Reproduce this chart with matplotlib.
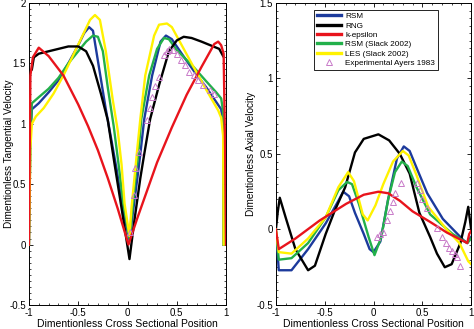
import numpy as np
import matplotlib
matplotlib.use("Agg")
import matplotlib.pyplot as plt
from matplotlib.ticker import MultipleLocator

plt.rcParams['font.family'] = ['Liberation Sans', 'DejaVu Sans']

# ---- tangential velocity profiles ----
tan_rsm_x = [-1.0, -0.985, -0.97, -0.9, -0.8, -0.7, -0.6, -0.5, -0.44, -0.39, -0.35, -0.29,
             -0.22, -0.16, -0.11, -0.05, 0.02, 0.06, 0.1, 0.13, 0.17, 0.25, 0.335, 0.39, 0.45,
             0.55, 0.67, 0.8, 0.9, 0.95, 0.97, 0.975]
tan_rsm_y = [0.0, 0.9, 1.12, 1.17, 1.26, 1.36, 1.5, 1.65, 1.75, 1.8, 1.77, 1.47,
             1.12, 0.85, 0.62, 0.3, 0.04, 0.3, 0.55, 0.75, 1.04, 1.4, 1.68, 1.73, 1.7,
             1.58, 1.44, 1.3, 1.18, 1.12, 1.0, 0.0]

tan_rng_x = [-0.97, -0.95, -0.9, -0.8, -0.7, -0.6, -0.5, -0.42, -0.35, -0.27, -0.2, -0.13,
             -0.06, 0.02, 0.07, 0.13, 0.17, 0.23, 0.32, 0.42, 0.5, 0.57, 0.65, 0.75, 0.87,
             0.93, 0.97]
tan_rng_y = [1.45, 1.55, 1.58, 1.6, 1.62, 1.64, 1.64, 1.6, 1.48, 1.25, 1.03, 0.66,
             0.3, -0.12, 0.2, 0.55, 0.75, 1.04, 1.32, 1.6, 1.69, 1.72, 1.71, 1.68, 1.64,
             1.62, 1.56]

tan_ke_x = [-1.0, -0.985, -0.96, -0.9, -0.8, -0.65, -0.5, -0.4, -0.3, -0.2, -0.1, 0.01,
            0.1, 0.2, 0.3, 0.45, 0.6, 0.75, 0.88, 0.92, 0.95, 0.975, 0.99, 1.0]
tan_ke_y = [0.0, 1.4, 1.55, 1.63, 1.56, 1.4, 1.16, 0.98, 0.78, 0.55, 0.3, 0.0,
            0.22, 0.45, 0.68, 0.97, 1.24, 1.47, 1.66, 1.68, 1.65, 1.58, 0.8, 0.0]

tan_rsm02_x = [-1.0, -0.985, -0.97, -0.9, -0.8, -0.7, -0.6, -0.5, -0.42, -0.35, -0.3, -0.25,
               -0.2, -0.14, -0.09, -0.04, 0.02, 0.05, 0.08, 0.11, 0.14, 0.22, 0.3, 0.37, 0.42,
               0.5, 0.67, 0.8, 0.9, 0.95, 0.97, 0.975]
tan_rsm02_y = [0.0, 0.9, 1.17, 1.22, 1.29, 1.38, 1.5, 1.6, 1.68, 1.73, 1.72, 1.6,
               1.3, 0.98, 0.66, 0.32, 0.05, 0.3, 0.55, 0.75, 1.04, 1.4, 1.62, 1.71, 1.7,
               1.61, 1.47, 1.35, 1.26, 1.21, 1.1, 0.0]

tan_les_x = [-1.0, -0.985, -0.97, -0.93, -0.85, -0.75, -0.65, -0.55, -0.45, -0.38, -0.33, -0.28,
             -0.22, -0.15, -0.1, -0.06, -0.03, 0.02, 0.04, 0.07, 0.1, 0.13, 0.18, 0.27, 0.32,
             0.4, 0.45, 0.55, 0.67, 0.8, 0.92, 0.95, 0.97, 0.975]
tan_les_y = [0.0, 0.8, 1.0, 1.06, 1.13, 1.25, 1.4, 1.57, 1.74, 1.86, 1.9, 1.86,
             1.6, 1.2, 0.95, 0.66, 0.34, 0.07, 0.3, 0.55, 0.8, 1.04, 1.4, 1.73, 1.82,
             1.83, 1.8, 1.65, 1.47, 1.28, 1.11, 1.05, 0.9, 0.0]

tan_exp_x = [0.03, 0.065, 0.08, 0.115, 0.2, 0.23, 0.25, 0.28, 0.32, 0.37, 0.40, 0.42,
             0.46, 0.5, 0.54, 0.58, 0.62, 0.67, 0.71, 0.77, 0.84, 0.88]
tan_exp_y = [0.1, 0.41, 0.63, 0.77, 1.03, 1.13, 1.22, 1.31, 1.39, 1.57, 1.6, 1.62,
             1.61, 1.58, 1.53, 1.49, 1.43, 1.4, 1.36, 1.32, 1.28, 1.25]

# ---- axial velocity profiles ----
ax_rsm_x = [-1.0, -0.97, -0.84, -0.67, -0.49, -0.36, -0.31, -0.25, -0.19, -0.1, -0.04, 0.0,
            0.07, 0.15, 0.24, 0.31, 0.37, 0.44, 0.55, 0.71, 0.92, 0.96, 1.0]
ax_rsm_y = [0.0, -0.27, -0.27, -0.13, 0.04, 0.19, 0.25, 0.22, 0.11, -0.03, -0.13, -0.15,
            -0.08, 0.2, 0.47, 0.55, 0.52, 0.41, 0.24, 0.07, -0.07, -0.09, -0.05]

ax_rng_x = [-1.0, -0.98, -0.96, -0.9, -0.8, -0.67, -0.6, -0.49, -0.4, -0.29, -0.19, -0.1,
            0.05, 0.16, 0.27, 0.37, 0.47, 0.58, 0.65, 0.73, 0.8, 0.89, 0.94, 0.97, 1.0]
ax_rng_y = [0.0, 0.12, 0.21, 0.08, -0.13, -0.27, -0.24, -0.03, 0.12, 0.28, 0.51, 0.6,
            0.63, 0.59, 0.5, 0.37, 0.11, -0.05, -0.16, -0.25, -0.23, -0.09, 0.05, 0.15, 0.0]

ax_ke_x = [-1.0, -0.97, -0.8, -0.55, -0.28, -0.1, 0.05, 0.15, 0.27, 0.4, 0.58, 0.75,
           0.96, 0.98, 1.0]
ax_ke_y = [0.0, -0.13, -0.06, 0.06, 0.17, 0.23, 0.25, 0.24, 0.19, 0.12, 0.05, -0.02,
           -0.09, -0.03, -0.01]

ax_rsm02_x = [-1.0, -0.97, -0.84, -0.67, -0.49, -0.36, -0.27, -0.22, -0.15, -0.05, 0.01, 0.08,
              0.15, 0.22, 0.29, 0.35, 0.44, 0.58, 0.81, 0.96, 1.0]
ax_rsm02_y = [0.0, -0.2, -0.19, -0.09, 0.08, 0.26, 0.315, 0.3, 0.17, -0.05, -0.17, -0.05,
              0.2, 0.38, 0.45, 0.42, 0.28, 0.1, -0.03, -0.09, -0.06]

ax_les_x = [-1.0, -0.97, -0.84, -0.67, -0.49, -0.36, -0.26, -0.2, -0.11, -0.06, 0.02, 0.1,
            0.2, 0.3, 0.36, 0.44, 0.56, 0.75, 0.88, 0.97, 1.0]
ax_les_y = [0.0, -0.15, -0.16, -0.06, 0.08, 0.28, 0.38, 0.32, 0.1, 0.06, 0.16, 0.3,
            0.45, 0.52, 0.49, 0.36, 0.15, 0.0, -0.09, -0.21, -0.23]

ax_exp_x = [0.04, 0.07, 0.10, 0.14, 0.17, 0.20, 0.22, 0.285, 0.45, 0.48, 0.5, 0.55,
            0.65, 0.70, 0.74, 0.77, 0.80, 0.83, 0.86, 0.89]
ax_exp_y = [-0.05, -0.03, -0.02, 0.06, 0.12, 0.18, 0.24, 0.31, 0.31, 0.26, 0.2, 0.14,
            0.01, -0.05, -0.09, -0.12, -0.14, -0.16, -0.18, -0.24]

c_rsm = '#1c3a9c'
c_rng = '#000000'
c_ke = '#e8141c'
c_rsm02 = '#22b04a'
c_les = '#fff200'
c_exp = '#c87ac8'
lw = 1.7

fig = plt.figure(figsize=(4.74, 3.29), dpi=100)
ax1 = fig.add_axes([0.061, 0.073, 0.416, 0.918])
ax2 = fig.add_axes([0.582, 0.073, 0.412, 0.918])


def style_axes(ax, ylo, yhi, ylab):
    ax.set_xlim(-1, 1)
    ax.set_ylim(ylo, yhi)
    ax.xaxis.set_major_locator(MultipleLocator(0.5))
    ax.xaxis.set_minor_locator(MultipleLocator(0.1))
    ax.yaxis.set_major_locator(MultipleLocator(0.5))
    ax.yaxis.set_minor_locator(MultipleLocator(0.05))
    ax.tick_params(which='both', direction='in', top=True, right=True, labelsize=7, pad=2)
    ax.tick_params(which='major', length=3, width=0.6)
    ax.tick_params(which='minor', length=1.6, width=0.5)
    ax.set_xticks([-1, -0.5, 0, 0.5, 1])
    ax.set_xticklabels(['-1', '-0.5', '0', '0.5', '1'])
    ax.set_xlabel('Dimentionless Cross Sectional Position', fontsize=7.5, labelpad=1)
    ax.set_ylabel(ylab, fontsize=7.2, labelpad=1)
    for s in ax.spines.values():
        s.set_linewidth(0.7)


# left panel
ax1.plot(tan_rsm_x, tan_rsm_y, color=c_rsm, lw=lw, zorder=3)
ax1.plot(tan_rsm02_x, tan_rsm02_y, color=c_rsm02, lw=lw, zorder=3)
ax1.plot(tan_les_x, tan_les_y, color=c_les, lw=lw, zorder=3)
ax1.plot(tan_rng_x, tan_rng_y, color=c_rng, lw=lw, zorder=4)
ax1.plot(tan_ke_x, tan_ke_y, color=c_ke, lw=lw, zorder=5)
ax1.plot(tan_exp_x, tan_exp_y, ls='none', marker='^', ms=4, mfc='none',
         mec=c_exp, mew=0.7, zorder=6)
style_axes(ax1, -0.5, 2.0, 'Dimentionless Tangential Velocity')
ax1.set_yticks([-0.5, 0, 0.5, 1, 1.5, 2])
ax1.set_yticklabels(['-0.5', '0', '0.5', '1', '1.5', '2'])
ax1.yaxis.set_label_coords(-0.078, 0.5)

# right panel
ax2.plot(ax_rsm_x, ax_rsm_y, color=c_rsm, lw=lw, label='RSM', zorder=3)
ax2.plot(ax_rng_x, ax_rng_y, color=c_rng, lw=lw, label='RNG', zorder=3)
ax2.plot(ax_ke_x, ax_ke_y, color=c_ke, lw=lw, label='k-epsilon', zorder=4)
ax2.plot(ax_rsm02_x, ax_rsm02_y, color=c_rsm02, lw=lw, label='RSM (Slack 2002)', zorder=3)
ax2.plot(ax_les_x, ax_les_y, color=c_les, lw=lw, label='LES (Slack 2002)', zorder=3)
ax2.plot(ax_exp_x, ax_exp_y, ls='none', marker='^', ms=4, mfc='none',
         mec=c_exp, mew=0.7, label='Experimental Ayers 1983', zorder=6)
style_axes(ax2, -0.5, 1.5, 'Dimentionless Axial Velocity')
ax2.set_yticks([-0.5, 0, 0.5, 1, 1.5])
ax2.set_yticklabels(['-0.5', '0', '0.5', '1', '1.5'])
ax2.yaxis.set_label_coords(-0.1, 0.5)

leg = ax2.legend(loc='upper left', bbox_to_anchor=(0.195, 0.978), fontsize=5.9,
                 frameon=True, fancybox=False, edgecolor='black', framealpha=1,
                 handlelength=2.9, handletextpad=0.6, borderpad=0.35,
                 labelspacing=0.2, borderaxespad=0)
leg.get_frame().set_linewidth(0.6)
for h in leg.get_lines()[:5]:
    h.set_linewidth(2.4)

fig.savefig('out.png', dpi=100)
